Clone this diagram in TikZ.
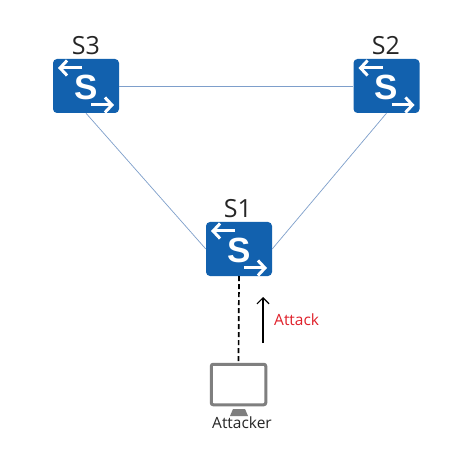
\documentclass[tikz,border=0pt]{standalone}
\usepackage{fontspec}
\setmainfont{Open Sans}
\newfontfamily\iconfont{Liberation Sans}
\usetikzlibrary{arrows.meta}
\definecolor{swblue}{HTML}{1261AE}
\definecolor{linkblue}{HTML}{7E9FCB}
\definecolor{mongray}{HTML}{7F7F7F}
\definecolor{attackred}{HTML}{E0202A}
\tikzset{
  x=1pt,y=-1pt,
  switchbox/.style={draw=none,fill=swblue,rounded corners=4pt,minimum width=66pt,minimum height=54pt,inner sep=0pt},
  link/.style={draw=linkblue,line width=0.7pt},
  swarrow/.style={draw=white,line width=3pt,-{Straight Barb[length=7pt,width=15pt,line width=3pt]}},
  tag/.style={font=\fontsize{25}{25}\selectfont,inner sep=0pt,text=black!85},
}
\begin{document}
\begin{tikzpicture}
\useasboundingbox (0,0) rectangle (474,457);
\fill[white] (0,0) rectangle (474,457);
\node[switchbox] (s3) at (86,86) {};
\node[switchbox] (s2) at (386.5,86) {};
\node[switchbox] (s1) at (239,249) {};
\foreach \n/\cx/\cy in {s3/86/86,s2/386.5/86,s1/239/249}{
  \node[font=\fontsize{35}{35}\iconfont\bfseries,text=white,inner sep=0pt] at (\cx,\cy+1) {S};
  \draw[swarrow] (\cx-4,\cy-18) -- (\cx-28,\cy-18);
  \draw[swarrow] (\cx+5,\cy+19) -- (\cx+28,\cy+19);
}
\draw[link] (s3.east) -- (s2.west);
\draw[link] (s3.south) -- (s1.west);
\draw[link] (s2.south) -- (s1.east);
\node[tag] (l3) at (86,46) {S3};
\node[tag] (l2) at (386,46) {S2};
\node[tag] (l1) at (238,209) {S1};
\node[draw=mongray,line width=3pt,rounded corners=2pt,minimum width=54.5pt,minimum height=40.5pt,inner sep=0pt] (mon) at (238.5,384.5) {};
\fill[mongray] (233,409) -- (245,409) -- (248,416) -- (230,416) -- cycle;
\node[font=\fontsize{15.5}{15.5}\selectfont,inner sep=0pt,text=black!85,anchor=base] (att) at (242,428) {Attacker};
\draw[line width=1.7pt,dash pattern=on 5pt off 3pt] (s1.south) -- (mon.north);
\coordinate (a0) at (263,343);
\coordinate (a1) at (263,297);
\draw[line width=1.2pt,-{Straight Barb[length=6pt,width=12pt,line width=1.2pt]}] (a0) -- (a1);
\node[font=\fontsize{15.5}{15.5}\selectfont,text=attackred,inner sep=0pt,anchor=base west] (lab) at (274,325) {Attack};
\end{tikzpicture}
\end{document}
